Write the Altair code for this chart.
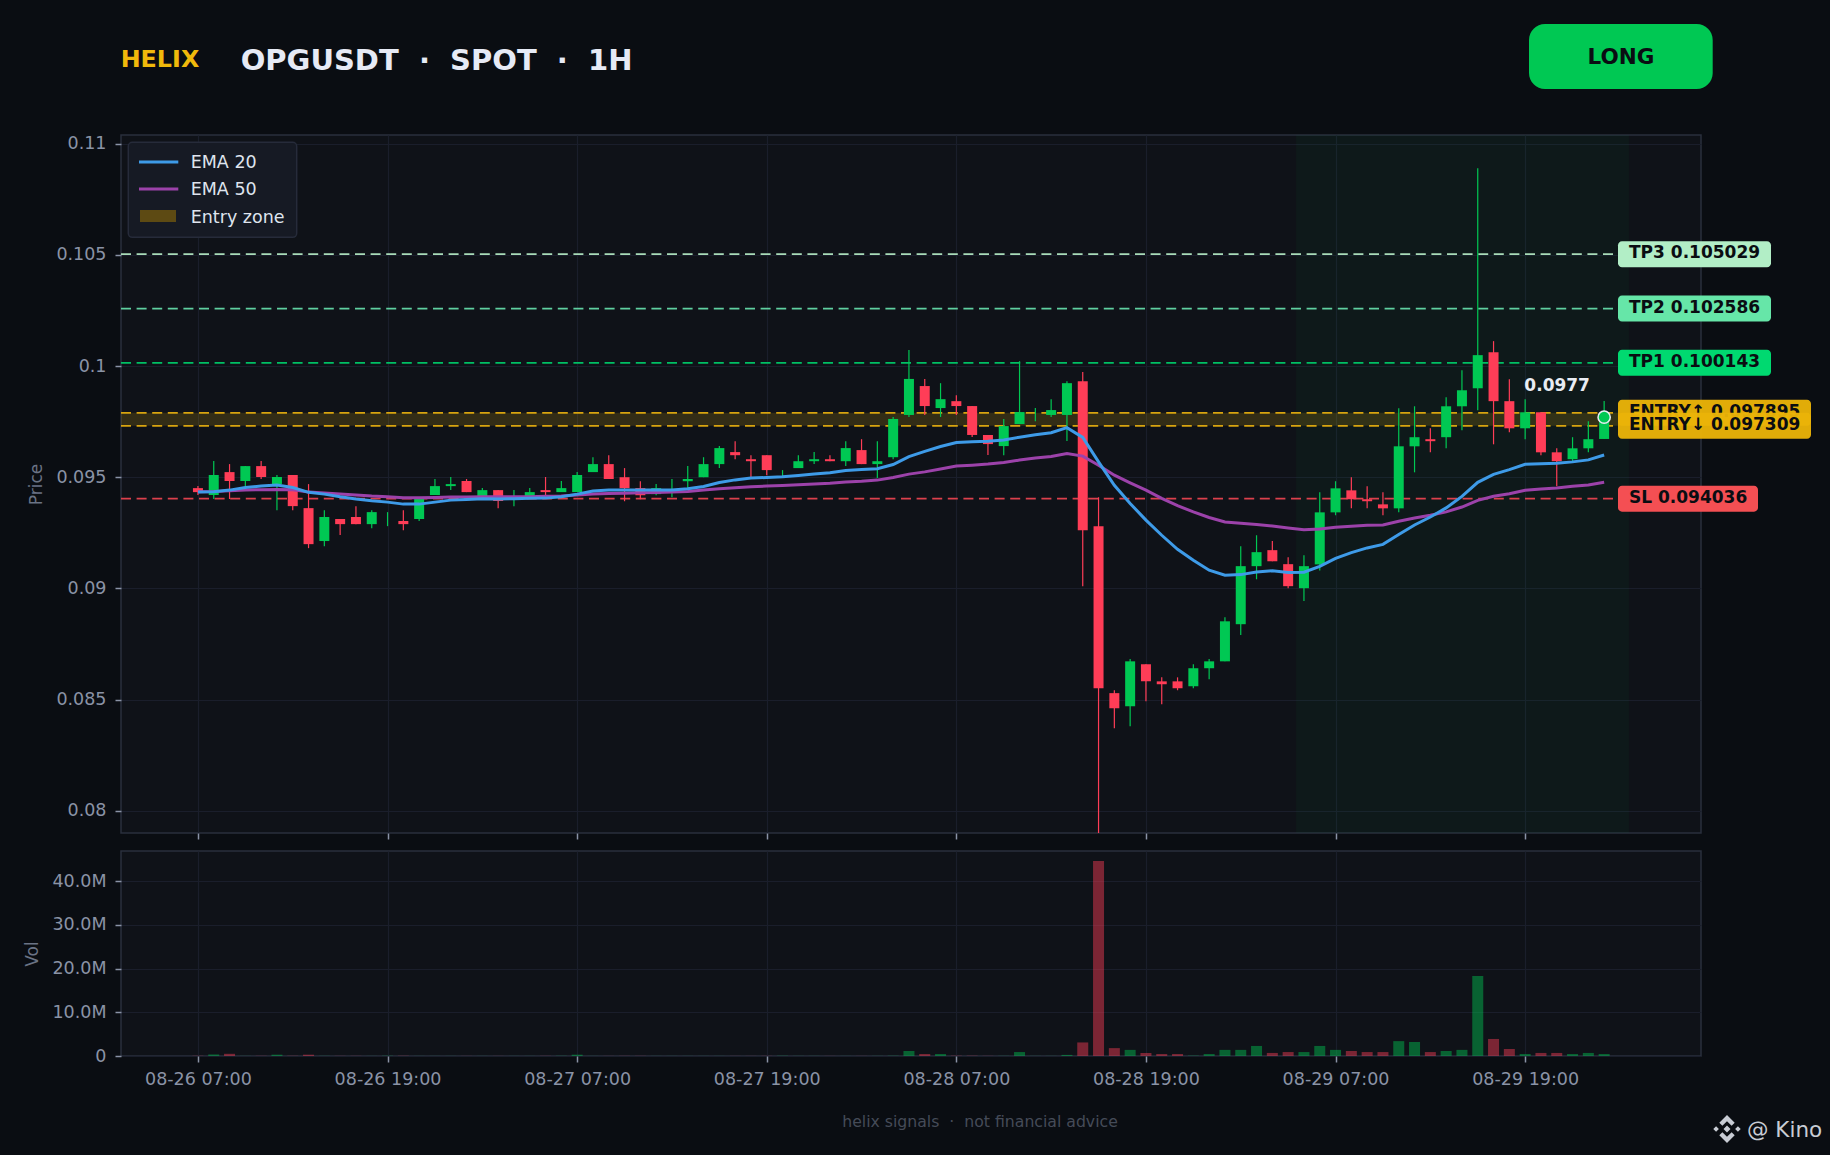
import altair as alt
import pandas as pd
from altair.utils import html as alt_html

FONT = "DejaVu Sans"
BG = "#0a0d12"
PANEL = "#0f1218"
GRID = "#1a1e2b"
FRAME = "#2a2f3d"
TICK = "#8a93a6"
GREEN = "#00c853"
RED = "#ff3d57"
INK = "#0a0d12"


# the page colour reaches past the 8px body margin; the drawing keeps its own size
class DarkPage:
    base = alt_html.TEMPLATES["standard"]

    def render(self, **kw):
        return self.base.render(**kw).replace(
            "<head>", "<head><style>html,body{background:" + BG + ";overflow:hidden;}"
            " .vega-embed svg{flex:none;}</style>", 1)


alt_html.TEMPLATES["standard"] = DarkPage()

hours = list(range(90))
tick_hours = [0, 12, 24, 36, 48, 60, 72, 84]
tick_labels = ["08-26 07:00", "08-26 19:00", "08-27 07:00", "08-27 19:00",
               "08-28 07:00", "08-28 19:00", "08-29 07:00", "08-29 19:00"]
price_ticks = [0.08, 0.085, 0.09, 0.095, 0.1, 0.105, 0.11]
vol_ticks = [0, 10e6, 20e6, 30e6, 40e6]

opens = [.09451,.09420,.09523,.09483,.09550,.09469,.09510,.09361,.09213,.09312,
         .09321,.09289,.09320,.09303,.09312,.09420,.09460,.09483,.09415,.09442,
         .09406,.09415,.09442,.09433,.09433,.09523,.09559,.09500,.09451,.09424,
         .09442,.09482,.09500,.09559,.09613,.09581,.09599,.09512,.09541,.09572,
         .09581,.09572,.09622,.09559,.09590,.09780,.09910,.09811,.09842,.09820,
         .09690,.09640,.09739,.09780,.09780,.09780,.09932,.09280,.08529,.08470,
         .08659,.08582,.08582,.08560,.08641,.08672,.08839,.09100,.09172,.09109,
         .09001,.09108,.09342,.09441,.09401,.09378,.09360,.09639,.09671,.09680,
         .09819,.09900,.10062,.09842,.09720,.09792,.09612,.09581,.09630,.09672]
closes = [.09433,.09510,.09483,.09550,.09501,.09501,.09370,.09199,.09321,.09289,
          .09289,.09343,.09320,.09289,.09402,.09460,.09469,.09433,.09442,.09393,
          .09415,.09433,.09433,.09451,.09510,.09559,.09492,.09451,.09419,.09451,
          .09442,.09492,.09559,.09631,.09599,.09572,.09532,.09512,.09572,.09581,
          .09572,.09631,.09559,.09572,.09762,.09942,.09820,.09851,.09820,.09690,
          .09649,.09730,.09793,.09780,.09802,.09923,.09262,.08551,.08461,.08672,
          .08582,.08569,.08551,.08641,.08672,.08852,.09100,.09163,.09122,.09010,
          .09100,.09342,.09450,.09401,.09392,.09360,.09639,.09680,.09662,.09819,
          .09891,.10049,.09842,.09720,.09792,.09612,.09572,.09630,.09671,.09770]
highs = [.09460,.09573,.09559,.09550,.09573,.09510,.09510,.09469,.09352,.09312,
         .09370,.09352,.09343,.09352,.09402,.09492,.09501,.09492,.09451,.09442,
         .09442,.09451,.09501,.09483,.09523,.09590,.09599,.09541,.09482,.09469,
         .09492,.09550,.09590,.09640,.09662,.09599,.09599,.09532,.09599,.09613,
         .09599,.09662,.09671,.09662,.09771,.10072,.09942,.09923,.09869,.09820,
         .09690,.09762,.10022,.09811,.09851,.09932,.09973,.09410,.08542,.08682,
         .08659,.08600,.08600,.08659,.08682,.08870,.09190,.09239,.09213,.09140,
         .09149,.09432,.09482,.09500,.09459,.09432,.09810,.09819,.09720,.09860,
         .09981,.10890,.10112,.09941,.09851,.09792,.09630,.09680,.09752,.09843]
lows = [.09420,.09402,.09402,.09460,.09492,.09352,.09352,.09181,.09190,.09240,
        .09289,.09271,.09280,.09262,.09303,.09420,.09442,.09433,.09415,.09361,
        .09370,.09415,.09420,.09433,.09433,.09523,.09492,.09392,.09401,.09419,
        .09410,.09451,.09500,.09541,.09581,.09500,.09509,.09500,.09541,.09559,
        .09572,.09550,.09559,.09496,.09581,.09771,.09780,.09771,.09780,.09681,
        .09600,.09599,.09739,.09752,.09771,.09663,.09010,.07900,.08371,.08380,
        .08493,.08479,.08542,.08551,.08591,.08672,.08790,.09041,.09122,.09001,
        .08943,.09081,.09329,.09360,.09360,.09329,.09342,.09522,.09612,.09630,
        .09711,.09801,.09648,.09702,.09671,.09599,.09459,.09572,.09612,.09672]
ema20 = [.09433,.09435,.09442,.09454,.09460,.09465,.09454,.09432,.09424,.09412,
         .09402,.09394,.09388,.09379,.09379,.09388,.09397,.09400,.09403,.09402,
         .09403,.09405,.09406,.09412,.09424,.09438,.09442,.09443,.09443,.09442,
         .09443,.09448,.09458,.09476,.09488,.09496,.09499,.09502,.09508,.09514,
         .09520,.09530,.09535,.09538,.09557,.09593,.09616,.09638,.09656,.09659,
         .09662,.09667,.09680,.09691,.09700,.09723,.09679,.09569,.09464,.09382,
         .09307,.09239,.09176,.09127,.09082,.09059,.09062,.09074,.09079,.09071,
         .09073,.09099,.09135,.09161,.09182,.09198,.09242,.09285,.09321,.09362,
         .09414,.09477,.09513,.09534,.09558,.09561,.09563,.09569,.09578,.09600]
ema50 = [.09435,.09436,.09439,.09442,.09444,.09445,.09444,.09433,.09429,.09424,
         .09420,.09415,.09412,.09408,.09408,.09409,.09411,.09411,.09412,.09412,
         .09412,.09412,.09414,.09415,.09420,.09425,.09427,.09428,.09430,.09431,
         .09433,.09436,.09442,.09448,.09453,.09457,.09460,.09463,.09466,.09470,
         .09473,.09479,.09482,.09487,.09499,.09514,.09524,.09537,.09550,.09554,
         .09559,.09566,.09577,.09586,.09593,.09607,.09595,.09554,.09509,.09475,
         .09442,.09405,.09372,.09344,.09319,.09299,.09293,.09287,.09281,.09272,
         .09264,.09267,.09275,.09279,.09284,.09285,.09302,.09317,.09329,.09344,
         .09366,.09396,.09414,.09426,.09441,.09447,.09452,.09459,.09465,.09477]
volume_m = [.05,.35,.5,.03,.04,.3,.05,.3,.04,.03,
            .03,.02,.06,.05,.02,.02,.02,.02,.02,.02,
            .02,.02,.03,.05,.3,.02,.02,.03,.03,.02,
            .02,.02,.02,.02,.02,.02,.03,.06,.03,.03,
            .02,.02,.02,.03,.06,1.15,.45,.45,.06,.06,
            .03,.04,.9,.03,.03,.25,3.1,44.6,1.8,1.4,
            .7,.45,.45,.08,.45,1.4,1.4,2.3,.7,.9,
            .9,2.3,1.4,1.15,.9,.9,3.4,3.2,.9,1.15,
            1.4,18.3,3.9,1.6,.45,.7,.7,.45,.7,.45]

level_names = ["TP3 0.105029", "TP2 0.102586", "TP1 0.100143",
               "SL 0.094036", "ENTRY↑ 0.097895", "ENTRY↓ 0.097309"]
level_prices = [0.105029, 0.102586, 0.100143, 0.094036, 0.097895, 0.097309]
level_lines = ["#a9dcb8", "#5fd0a0", "#00c064", "#dc404c", "#d8a40f", "#d8a40f"]
level_fills = ["#b2eec6", "#66e6a8", "#00d970", "#f44f53", "#eab308", "#eab308"]
level_widths = [153, 153, 153, 140, 193, 193]

last_price = 0.0977
zone_start, zone_end = 69.5, 90.57

X_DOMAIN = [-4.87, 95.13]
Y_DOMAIN = [0.0790, 0.11039]
VOL_DOMAIN = [0, 46.9e6]
W, H, VH = 1580, 698, 205

df = pd.DataFrame({"h": hours, "o": opens, "c": closes, "hi": highs, "lo": lows,
                   "e20": ema20, "e50": ema50,
                   "v": [m * 1e6 for m in volume_m]})
df["col"] = [GREEN if c >= o else RED for o, c in zip(opens, closes)]

x_scale = alt.Scale(domain=X_DOMAIN, nice=False, zero=False, padding=0)
y_scale = alt.Scale(domain=Y_DOMAIN, nice=False, zero=False, padding=0)
lab_expr = str(tick_labels) + "[datum.value/12]"
x_axis = alt.Axis(values=tick_hours, labels=False)
y_axis = alt.Axis(values=price_ticks, format=".3~f", titlePadding=10, labelPadding=9)


def X(field):
    return alt.X(field, scale=x_scale, title=None, axis=x_axis)


def Y(field):
    return alt.Y(field, scale=y_scale, title="Price", axis=y_axis)


def one():
    return alt.Data(values=[{"a": 1}])


def box(x0, x1, y0, y1, **mk):
    return alt.Chart(one()).mark_rect(**mk).encode(
        x=alt.value(x0), x2=alt.value(x1), y=alt.value(y0), y2=alt.value(y1))


def label(txt, x, y, size, color, weight="normal", align="left"):
    return alt.Chart(one()).mark_text(
        text=txt, fontSize=size, color=color, fontWeight=weight, font=FONT,
        align=align, baseline="alphabetic").encode(x=alt.value(x), y=alt.value(y))


layers = []
# fixes the overall picture extent
layers.append(box(-112, 1700, -126, 1011, fillOpacity=0, fill="#000000"))
# highlighted zone
layers.append(alt.Chart(pd.DataFrame({"a": [zone_start], "b": [zone_end]})).mark_rect(
    color=GREEN, opacity=0.04).encode(x=X("a:Q"), x2="b:Q"))
# entry band
layers.append(alt.Chart(pd.DataFrame({"a": [level_prices[5]], "b": [level_prices[4]]})).mark_rect(
    color="#f0b90b", opacity=0.16).encode(
    x=alt.value(0), x2=alt.value(W), y=Y("a:Q"), y2="b:Q"))
# level lines
for p, c in zip(level_prices, level_lines):
    layers.append(alt.Chart(pd.DataFrame({"p": [p]})).mark_rule(
        color=c, strokeWidth=1.8, strokeDash=[10, 5.6]).encode(
        x=alt.value(0), x2=alt.value(1497), y=Y("p:Q")))
# candles
layers.append(alt.Chart(df).mark_rule(strokeWidth=1.2).encode(
    x=X("h:Q"), y=Y("lo:Q"), y2="hi:Q", color=alt.Color("col:N", scale=None)))
layers.append(alt.Chart(df).mark_bar(size=10).encode(
    x=X("h:Q"), y=Y("o:Q"), y2="c:Q", color=alt.Color("col:N", scale=None)))
# moving averages
for field, c in (("e50", "#9c42aa"), ("e20", "#3e9be8")):
    layers.append(alt.Chart(df).mark_line(color=c, strokeWidth=3).encode(
        x=X("h:Q"), y=Y(f"{field}:Q")))
# last price
last = pd.DataFrame({"h": [hours[-1]], "p": [last_price], "t": ["0.0977"]})
layers.append(alt.Chart(last).mark_point(
    filled=True, size=150, color=GREEN, stroke="#e8ecf3", strokeWidth=1.5, opacity=1).encode(
    x=X("h:Q"), y=Y("p:Q")))
layers.append(alt.Chart(last).mark_text(
    fontSize=17, fontWeight="bold", font=FONT, color="#e8ecf3", align="center",
    baseline="middle", dx=-47, dy=-31).encode(x=X("h:Q"), y=Y("p:Q"), text="t:N"))
# level badges
for name, p, f, w in zip(level_names, level_prices, level_fills, level_widths):
    d = pd.DataFrame({"p": [p], "t": [name]})
    layers.append(alt.Chart(d).mark_bar(
        color=f, orient="horizontal", size=26, cornerRadius=4,
        opacity=0.96 if name.startswith("ENTRY") else 1).encode(
        x=alt.value(1497), x2=alt.value(1497 + w), y=Y("p:Q")))
    layers.append(alt.Chart(d).mark_text(
        fontSize=17, fontWeight="bold", font=FONT, color=INK, align="left",
        baseline="middle", dy=-1).encode(
        x=alt.value(1508), y=Y("p:Q"), text="t:N"))
# legend
layers.append(box(7.3, 175.7, 7.3, 102.3, fill="#161a24", stroke="#262b3a",
                  strokeWidth=1.5, cornerRadius=4))
for yy, c in ((27, "#3e9be8"), (54, "#9c42aa")):
    layers.append(alt.Chart(one()).mark_rule(color=c, strokeWidth=3).encode(
        x=alt.value(18), x2=alt.value(57.3), y=alt.value(yy)))
layers.append(box(19, 55, 75, 87, fill="#5d4a13"))
for txt, yy in (("EMA 20", 32.5), ("EMA 50", 60.2), ("Entry zone", 87.5)):
    layers.append(label(txt, 69.7, yy, 17.5, "#dfe4ee"))
# header
layers.append(label("HELIX", -0.3, -68.3, 23.8, "#f0b90b", "bold"))
layers.append(label("OPGUSDT\u00a0\u00a0·\u00a0\u00a0SPOT\u00a0\u00a0·\u00a0\u00a01H",
                    119.7, -65, 29, "#e6eaf5", "bold"))
layers.append(box(1408, 1591.7, -111, -46, fill=GREEN, cornerRadius=16))
layers.append(label("LONG", 1500, -71.4, 21.5, INK, "bold", "center"))

main = alt.layer(*layers).properties(width=W, height=H)

vol_y = alt.Y("v:Q", scale=alt.Scale(domain=VOL_DOMAIN, nice=False, zero=False, padding=0), title="Vol",
              axis=alt.Axis(values=vol_ticks, titlePadding=10, labelPadding=9,
                            labelExpr="datum.value==0?'0':format(datum.value/1e6,'.1f')+'M'"))
vol_x = alt.X("h:Q", scale=x_scale, title=None,
              axis=alt.Axis(values=tick_hours, labelExpr=lab_expr, labelPadding=8,
                            labelFlush=False, labelOverlap=False))
vlayers = [
    alt.Chart(df).mark_bar(size=11, opacity=0.45).encode(
        x=vol_x, y=vol_y, color=alt.Color("col:N", scale=None)),
    alt.Chart(one()).mark_text(
        text="helix signals\u00a0\u00a0·\u00a0\u00a0not financial advice", fontSize=15.7, color="#454b58",
        font=FONT, align="center", baseline="middle").encode(x=alt.value(859), y=alt.value(271)),
    alt.Chart(one()).mark_point(
        shape=("M0,-1L.55,-.45L.33,-.23L0,-.56L-.33,-.23L-.55,-.45Z"
               "M0,1L.55,.45L.33,.23L0,.56L-.33,.23L-.55,.45Z"
               "M0,-.25L.25,0L0,.25L-.25,0Z"
               "M-.78,-.2L-.58,0L-.78,.2L-.98,0Z"
               "M.78,-.2L.98,0L.78,.2L.58,0Z"),
        filled=True, size=784, color="#c8ccd4", opacity=1).encode(
        x=alt.value(1606), y=alt.value(278)),
    label("@ Kino", 1626, 285.7, 21.5, "#c8ccd4"),
]
vol = alt.layer(*vlayers).properties(width=W, height=VH)

chart = alt.vconcat(main, vol, spacing=18).properties(
    bounds="flush", padding=0, background=BG
).configure_view(
    fill=PANEL, stroke=FRAME, strokeWidth=1.5
).configure_axis(
    labelFont=FONT, titleFont=FONT, labelFontSize=17.5, titleFontSize=17,
    labelColor=TICK, titleColor="#6a7385", titleFontWeight="normal",
    tickColor=TICK, tickWidth=1.5, tickSize=6, domain=False,
    grid=True, gridColor=GRID, gridWidth=1.2, labelPadding=8
)
chart.save("out.html", embed_options={"renderer": "svg", "actions": False})
